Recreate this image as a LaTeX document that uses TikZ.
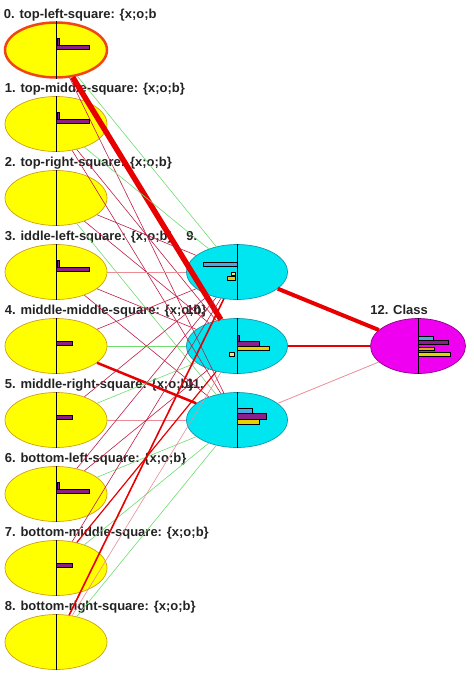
\documentclass[tikz,border=0pt]{standalone}
\usepackage{fontspec}
\setmainfont{Liberation Sans}
\usetikzlibrary{shapes.geometric,positioning}

\definecolor{inyellow}{RGB}{255,255,0}
\definecolor{inedge}{RGB}{205,160,20}
\definecolor{seledge}{RGB}{240,70,20}
\definecolor{hidcyan}{RGB}{0,230,240}
\definecolor{hidedge}{RGB}{20,150,170}
\definecolor{outmag}{RGB}{240,0,240}
\definecolor{outedge}{RGB}{140,0,140}
\definecolor{wred}{RGB}{232,0,0}
\definecolor{wdark}{RGB}{190,30,70}
\definecolor{wpink}{RGB}{235,140,150}
\definecolor{wgreen}{RGB}{110,220,110}
\definecolor{barpurple}{RGB}{140,30,140}
\definecolor{barcyan}{RGB}{70,170,230}
\definecolor{baryellow}{RGB}{230,210,0}
\definecolor{barorange}{RGB}{225,170,20}
\definecolor{barpale}{RGB}{220,240,120}
\definecolor{labeltext}{RGB}{35,35,35}

\newcommand{\histbar}[4]{\filldraw[draw=black,line width=0.5pt,fill=#4]
  ([shift={(#2)}]#1.center) rectangle ([shift={(#3)}]#1.center);}

\begin{document}
\begin{tikzpicture}[x=1pt,y=-1pt,node distance=74pt,on grid,
    inp/.style={ellipse,draw=inedge,line width=0.7pt,fill=inyellow,
      minimum width=102pt,minimum height=55pt,inner sep=0pt},
    hid/.style={inp,draw=hidedge,fill=hidcyan,minimum width=101pt},
    outp/.style={inp,draw=outedge,fill=outmag,minimum width=95pt},
    lbl/.style={anchor=base west,inner sep=0pt,text=labeltext,
      font=\fontsize{13}{15}\selectfont\bfseries},
    divider/.style={line width=0.8pt,black}]
\useasboundingbox (0,0) rectangle (474,691);

% input layer
\node[inp,draw=seledge,line width=2.5pt] (i0) at (56,50) {};
\node[inp] (i1) [below of=i0] {};
\node[inp] (i2) [below of=i1] {};
\node[inp] (i3) [below of=i2] {};
\node[inp] (i4) [below of=i3] {};
\node[inp] (i5) [below of=i4] {};
\node[inp] (i6) [below of=i5] {};
\node[inp] (i7) [below of=i6] {};
\node[inp] (i8) [below of=i7] {};

% hidden layer and class node
\node[hid] (h9) [right of=i3,node distance=181pt] {};
\node[hid] (h10) [below of=h9] {};
\node[hid] (h11) [below of=h10] {};
\node[outp] (o12) [right of=h10,node distance=181pt] {};

% labels
\foreach \n/\txt in {i0/{0. top-left-square: \{x;o;b},
    i1/{1. top-middle-square: \{x;o;b\}},
    i2/{2. top-right-square: \{x;o;b\}},
    i3/{3. iddle-left-square: \{x;o;b\}},
    i4/{4. middle-middle-square: \{x;o;b\}},
    i5/{5. middle-right-square: \{x;o;b\}},
    i6/{6. bottom-left-square: \{x;o;b\}},
    i7/{7. bottom-middle-square: \{x;o;b\}},
    i8/{8. bottom-right-square: \{x;o;b\}},
    h9/{9.}, h10/{10.}, h11/{11.}, o12/{12. Class}}
  \node[lbl] (l-\n) at ([shift={(0,-32)}]\n.west) {\txt};

% links input -> hidden
\foreach \a/\b/\c/\w in {0/9/wgreen/0.6, 0/10/wred/5.5, 0/11/wdark/0.6,
    1/9/wgreen/0.6, 1/10/wdark/0.6, 1/11/wdark/0.6,
    2/9/wdark/0.6, 2/10/wdark/0.6, 2/11/wgreen/0.6,
    3/9/wpink/0.8, 3/10/wdark/0.6, 3/11/wdark/0.6,
    4/9/wdark/0.6, 4/10/wgreen/0.6, 4/11/wred/2.5,
    5/9/wdark/0.6, 5/10/wgreen/0.6, 5/11/wpink/0.8,
    6/9/wdark/0.6, 6/10/wdark/0.6, 6/11/wgreen/0.6,
    7/9/wdark/0.6, 7/10/wred/1.2, 7/11/wgreen/0.6,
    8/9/wred/1.6, 8/10/wpink/0.6, 8/11/wgreen/0.6}
  \draw[draw=\c,line width=\w pt] (i\a) -- (h\b);
% links hidden -> class
\foreach \b/\c/\w in {9/wred/4, 10/wred/2, 11/wpink/0.8}
  \draw[draw=\c,line width=\w pt] (h\b) -- (o12);

% dividers
\foreach \n in {i0,i1,i2,i3,i4,i5,i6,i7,i8,h9,h10,h11,o12}
  \draw[divider] (\n.north) -- (\n.south);

% bars
\foreach \n in {i0,i1,i3,i6} {
  \histbar{\n}{1,-12}{3,-5}{barpurple}
  \histbar{\n}{0,-5}{33,-1}{barpurple}
}
\foreach \n in {i4,i5,i7} {\histbar{\n}{0,-5}{16,-1}{barpurple}}
\histbar{h9}{0,-10}{-34,-6}{barcyan}
\histbar{h9}{-6,0}{-2,3}{barpale}
\histbar{h9}{-10,4}{-2,8}{baryellow}
\histbar{h10}{0,-11}{2,-5}{barpurple}
\histbar{h10}{0,-5}{22,0}{barpurple}
\histbar{h10}{0,0}{32,4}{baryellow}
\histbar{h10}{-8,6}{-3,10}{barpale}
\histbar{h11}{0,-12}{15,-7}{barcyan}
\histbar{h11}{0,-7}{29,-1}{barpurple}
\histbar{h11}{0,-1}{22,4}{baryellow}
\histbar{o12}{0,-10}{15,-6}{barcyan}
\histbar{o12}{0,-6}{30,-2}{barpurple}
\histbar{o12}{0,1}{16,4}{barorange}
\histbar{o12}{0,6}{32,10}{baryellow}
\end{tikzpicture}
\end{document}
